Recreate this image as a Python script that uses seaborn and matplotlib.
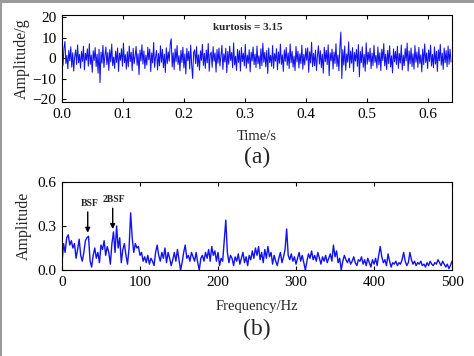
import numpy as np
import pandas as pd
import matplotlib
matplotlib.use("Agg")
import matplotlib.pyplot as plt
import seaborn as sns
from matplotlib.patches import Rectangle

# ---------------- data ----------------
fs_time = 625.0  # samples per second of the read-off signal (400 pts over 0.64 s)
signal = [
    2.1, -3.5, 4.8, 8.2, -2.6, 1.4, -5.1, 3.9, -1.2, 5.6, -4.3, 2.7, -6.2, 0.8, 4.1, -3.0, 6.5, -2.2, 1.9, -4.8,
    3.3, -1.5, 5.9, -5.6, 2.4, -0.9, 4.6, -3.8, 7.1, -2.9, 1.6, -6.8, 3.7, -1.1, 5.2, -4.0, 2.0, -7.3, 4.4, -11.8,
    3.0, -2.4, 6.3, -4.5, 1.2, 5.5, -3.1, 2.8, -5.9, 4.2, -1.8, 6.9, -3.6, 0.6, -4.9, 3.5, -2.0, 5.0, -6.4, 2.5,
    -1.0, 4.7, -3.9, 7.4, -2.1, 1.8, -5.3, 3.2, -4.1, 6.0, -1.6, 2.9, -6.0, 4.9, -2.7, 1.1, 5.8, -3.4, 2.2, -7.9,
    4.0, -1.3, 6.6, -2.8, 3.6, -5.0, 1.5, -3.3, 5.3, -0.7, 4.5, -6.5, 2.6, -2.3, 7.7, -4.4, 1.0, 3.8, -5.7, 2.3,
    -3.7, 6.1, -1.9, 4.3, -4.6, 2.0, -6.9, 5.1, -2.5, 3.1, -1.4, 7.0, 9.5, -4.2, 2.7, -5.5, 4.6, -1.7, 6.2, -3.0,
    1.3, -6.1, 3.9, -2.0, 5.4, -4.7, 2.1, -7.6, 4.8, -1.2, 3.4, -5.2, 6.4, -3.3, -9.8, 2.9, 4.1, -2.6, 5.7, -4.0,
    1.7, -5.8, 3.6, -1.0, 6.8, -3.5, 2.4, -4.9, 4.0, -2.2, 7.2, -6.3, 1.9, 3.0, -4.4, 5.6, -1.5, 2.6, -6.7, 4.3,
    -2.4, 5.0, -3.8, 1.4, 6.3, -5.4, 2.2, -1.8, 4.9, -7.0, 3.3, -2.9, 5.9, -1.1, 2.8, -4.6, 7.5, -3.2, 1.0, -5.9,
    4.4, -2.0, 3.7, -6.2, 5.2, -1.6, 2.5, -3.7, 6.7, -4.8, 1.6, -2.5, 4.2, -6.6, 3.0, -1.3, 5.5, -3.1, 2.0, -4.5,
    6.0, -2.7, 1.2, -5.1, 4.6, -3.6, 7.3, -1.9, 2.9, -4.2, 3.8, -7.4, 5.0, -2.1, 1.5, -3.9, 6.2, -4.9, 2.3, -1.4,
    4.7, -5.6, 3.1, -2.4, 6.9, -3.0, 1.7, -6.4, 4.1, -1.5, 5.3, -3.4, 2.6, -5.0, 7.0, -2.2, 3.4, -4.3, 1.1, -6.0,
    5.8, -1.8, 3.5, -4.7, 2.2, -2.6, 6.4, -5.3, 1.9, -3.2, 4.8, -1.0, 5.1, -6.8, 3.2, -2.3, 7.8, -4.1, 2.4, -3.6,
    4.0, -5.9, 1.3, 6.1, -2.8, 3.7, -4.5, 2.0, -7.2, 5.4, -1.7, 3.9, -3.1, 6.6, -8.4, 2.7, -1.2, 4.5, -5.2, 3.0,
    -2.5, 7.1, -4.0, 1.6, -6.1, 5.7, 12.8, -9.9, 4.2, -3.3, 6.0, -5.8, 2.1, -1.9, 8.0, -4.6, 3.5, -2.4, 5.2, -6.5,
    2.8, -1.4, 4.3, -3.9, 6.7, -9.0, 3.3, -2.1, 5.6, -4.4, 1.8, -6.3, 7.6, -2.9, 3.0, -1.6, 4.9, -5.1, 2.5, -3.5,
    6.3, -2.0, 1.4, -4.8, 5.5, -3.2, 2.7, -6.0, 4.4, -1.1, 7.2, -3.7, 2.0, -5.5, 3.8, -2.6, 6.1, -4.2, 1.2, -7.1,
    4.6, -1.7, 3.3, -3.0, 5.9, -4.9, 2.3, -2.3, 6.5, -5.7, 1.5, -3.6, 4.7, -1.3, 7.4, -6.2, 3.6, -2.7, 5.0, -4.0,
    2.2, -5.3, 6.2, -1.9, 3.1, -4.4, 5.3, -2.5, 1.7, -6.6, 4.5, -3.1, 7.0, -2.0, 2.6, -5.0, 4.0, -1.5, 6.4, -3.8,
    1.9, -4.6, 5.6, -2.8, 3.4, -6.4, 4.1, -1.2, 6.8, -3.4, 2.5, -5.4, 5.0, -2.2, 3.7, -4.1, 6.0, -2.9, 4.4, -1.8,
]

df_step = 2.0  # Hz between spectrum lines
spectrum = [
    0.05, 0.18, 0.12, 0.22, 0.24, 0.17, 0.20, 0.15, 0.18, 0.08,   # 0-18
    0.14, 0.21, 0.10, 0.06, 0.12, 0.20, 0.22, 0.23, 0.06, 0.02,   # 20-38
    0.10, 0.15, 0.08, 0.12, 0.05, 0.17, 0.14, 0.20, 0.10, 0.16,   # 40-58
    0.12, 0.04, 0.18, 0.26, 0.12, 0.30, 0.15, 0.22, 0.05, 0.14,   # 60-78
    0.18, 0.10, 0.04, 0.15, 0.39, 0.22, 0.12, 0.18, 0.15, 0.16,   # 80-98
    0.10, 0.12, 0.06, 0.09, 0.05, 0.10, 0.04, 0.08, 0.06, 0.03,   # 100-118
    0.12, 0.17, 0.10, 0.06, 0.12, 0.08, 0.15, 0.05, 0.12, 0.08,   # 120-138
    0.03, 0.07, 0.12, 0.06, 0.14, 0.07, 0.00, 0.05, 0.12, 0.17,   # 140-158
    0.08, 0.10, 0.06, 0.12, 0.09, 0.06, 0.12, 0.05, 0.00, 0.08,   # 160-178
    0.10, 0.06, 0.12, 0.08, 0.14, 0.06, 0.16, 0.10, 0.13, 0.06,   # 180-198
    0.12, 0.03, 0.08, 0.06, 0.20, 0.34, 0.12, 0.05, 0.10, 0.08,   # 200-218
    0.03, 0.09, 0.06, 0.11, 0.04, 0.08, 0.12, 0.05, 0.09, 0.03,   # 220-238
    0.10, 0.07, 0.13, 0.08, 0.15, 0.10, 0.16, 0.07, 0.12, 0.05,   # 240-258
    0.14, 0.08, 0.16, 0.09, 0.12, 0.04, 0.10, 0.06, 0.03, 0.08,   # 260-278
    0.12, 0.05, 0.09, 0.14, 0.28, 0.10, 0.07, 0.11, 0.06, 0.09,   # 280-298
    0.04, 0.08, 0.12, 0.06, 0.10, 0.05, 0.00, 0.06, 0.11, 0.08,   # 300-318
    0.13, 0.07, 0.10, 0.06, 0.12, 0.08, 0.04, 0.09, 0.06, 0.10,   # 320-338
    0.05, 0.08, 0.11, 0.06, 0.17, 0.09, 0.13, 0.05, 0.08, 0.00,   # 340-358
    0.06, 0.10, 0.07, 0.05, 0.08, 0.04, 0.06, 0.09, 0.05, 0.03,   # 360-378
    0.07, 0.06, 0.09, 0.04, 0.07, 0.03, 0.08, 0.05, 0.02, 0.07,   # 380-398
    0.04, 0.08, 0.03, 0.10, 0.16, 0.09, 0.05, 0.07, 0.03, 0.11,   # 400-418
    0.06, 0.02, 0.05, 0.04, 0.06, 0.03, 0.05, 0.04, 0.07, 0.12,   # 420-438
    0.06, 0.03, 0.05, 0.12, 0.07, 0.04, 0.06, 0.03, 0.05, 0.04,   # 440-458
    0.06, 0.03, 0.04, 0.02, 0.05, 0.03, 0.06, 0.04, 0.03, 0.05,   # 460-478
    0.04, 0.07, 0.05, 0.03, 0.06, 0.04, 0.02, 0.04, 0.01, 0.03,   # 480-498
    0.06,                                                          # 500
]

time_ticks = [0.0, 0.1, 0.2, 0.3, 0.4, 0.5, 0.6]
amp_ticks = [-20, -10, 0, 10, 20]
freq_ticks = [0, 100, 200, 300, 400, 500]
spec_ticks = [0.0, 0.3, 0.6]
annotations = ["BSF", "2BSF"]
annot_freq = [33.0, 65.0]
annot_tip = [0.235, 0.26]
kurtosis_text = "kurtosis = 3.15"

# ---------------- figure ----------------
sns.set_theme(style="white")
plt.rcParams["font.family"] = ["Liberation Serif", "DejaVu Serif"]

df_t = pd.DataFrame({"t": np.arange(len(signal)) / fs_time, "a": signal})
df_f = pd.DataFrame({"f": np.arange(len(spectrum)) * df_step, "a": spectrum})

fig = plt.figure(figsize=(4.74, 3.56), dpi=100)
fig.patch.set_facecolor("white")
W, H = 474.0, 356.0

def ax_rect(l, t, r, b):
    return [l / W, 1 - b / H, (r - l) / W, (b - t) / H]

ax1 = fig.add_axes(ax_rect(62, 15, 452, 102))
ax2 = fig.add_axes(ax_rect(62, 182, 452, 270))

blue = "#1212ee"
sns.lineplot(data=df_t, x="t", y="a", ax=ax1, color=blue, linewidth=0.75, estimator=None)
sns.lineplot(data=df_f, x="f", y="a", ax=ax2, color=blue, linewidth=1.0, estimator=None)

for ax in (ax1, ax2):
    ax.set_facecolor("white")
    for s in ax.spines.values():
        s.set_visible(True)
        s.set_color("black")
        s.set_linewidth(0.8)
    ax.tick_params(axis="both", direction="in", length=3, width=0.8, colors="black",
                   labelsize=11, top=True, bottom=True, left=True, right=False, pad=4)
    ax.grid(False)

ax1.set_xlim(0, 0.64)
ax1.set_ylim(-21.3, 21.1)
ax1.set_xticks(time_ticks)
ax1.set_xticklabels([f"{v:.1f}" for v in time_ticks])
ax1.set_yticks(amp_ticks)
ax1.set_xlabel("")
ax1.set_ylabel("Amplitude/g", fontsize=11.5, labelpad=2)
ax1.text(0.305, 14.8, kurtosis_text, fontsize=8, fontweight="bold", ha="center", va="center")
ax1.text(0.5, -0.40, "Time/s", transform=ax1.transAxes, fontsize=10.5, ha="center", va="center")
ax1.text(0.5, -0.64, "(a)", transform=ax1.transAxes, fontsize=17, ha="center", va="center")

ax2.set_xlim(0, 500)
ax2.set_ylim(0, 0.6)
ax2.set_xticks(freq_ticks)
ax2.set_yticks(spec_ticks)
ax2.set_yticklabels([f"{v:.1f}" for v in spec_ticks])
ax2.set_xlabel("")
ax2.set_ylabel("Amplitude", fontsize=11.5, labelpad=4)
ax2.text(0.5, -0.42, "Frequency/Hz", transform=ax2.transAxes, fontsize=10.5, ha="center", va="center")
ax2.text(0.5, -0.67, "(b)", transform=ax2.transAxes, fontsize=17, ha="center", va="center")

for name, f, tip in zip(annotations, annot_freq, annot_tip):
    ax2.annotate("", xy=(f, tip), xytext=(f, tip + 0.18),
                 arrowprops=dict(arrowstyle="-|>", color="black", lw=1.0, mutation_scale=7))
    ax2.text(f + 2, tip + 0.22, name, fontsize=7, fontweight="bold", ha="center", va="center")

# grey frame remnants at top and left edges
fig.patches.append(Rectangle((0, 1 - 3 / H), 1, 3 / H, transform=fig.transFigure,
                             facecolor="#9a9a9a", edgecolor="none", zorder=10))
fig.patches.append(Rectangle((0, 0), 2 / W, 1, transform=fig.transFigure,
                             facecolor="#9a9a9a", edgecolor="none", zorder=10))

fig.savefig("out.png", dpi=100, facecolor="white")
